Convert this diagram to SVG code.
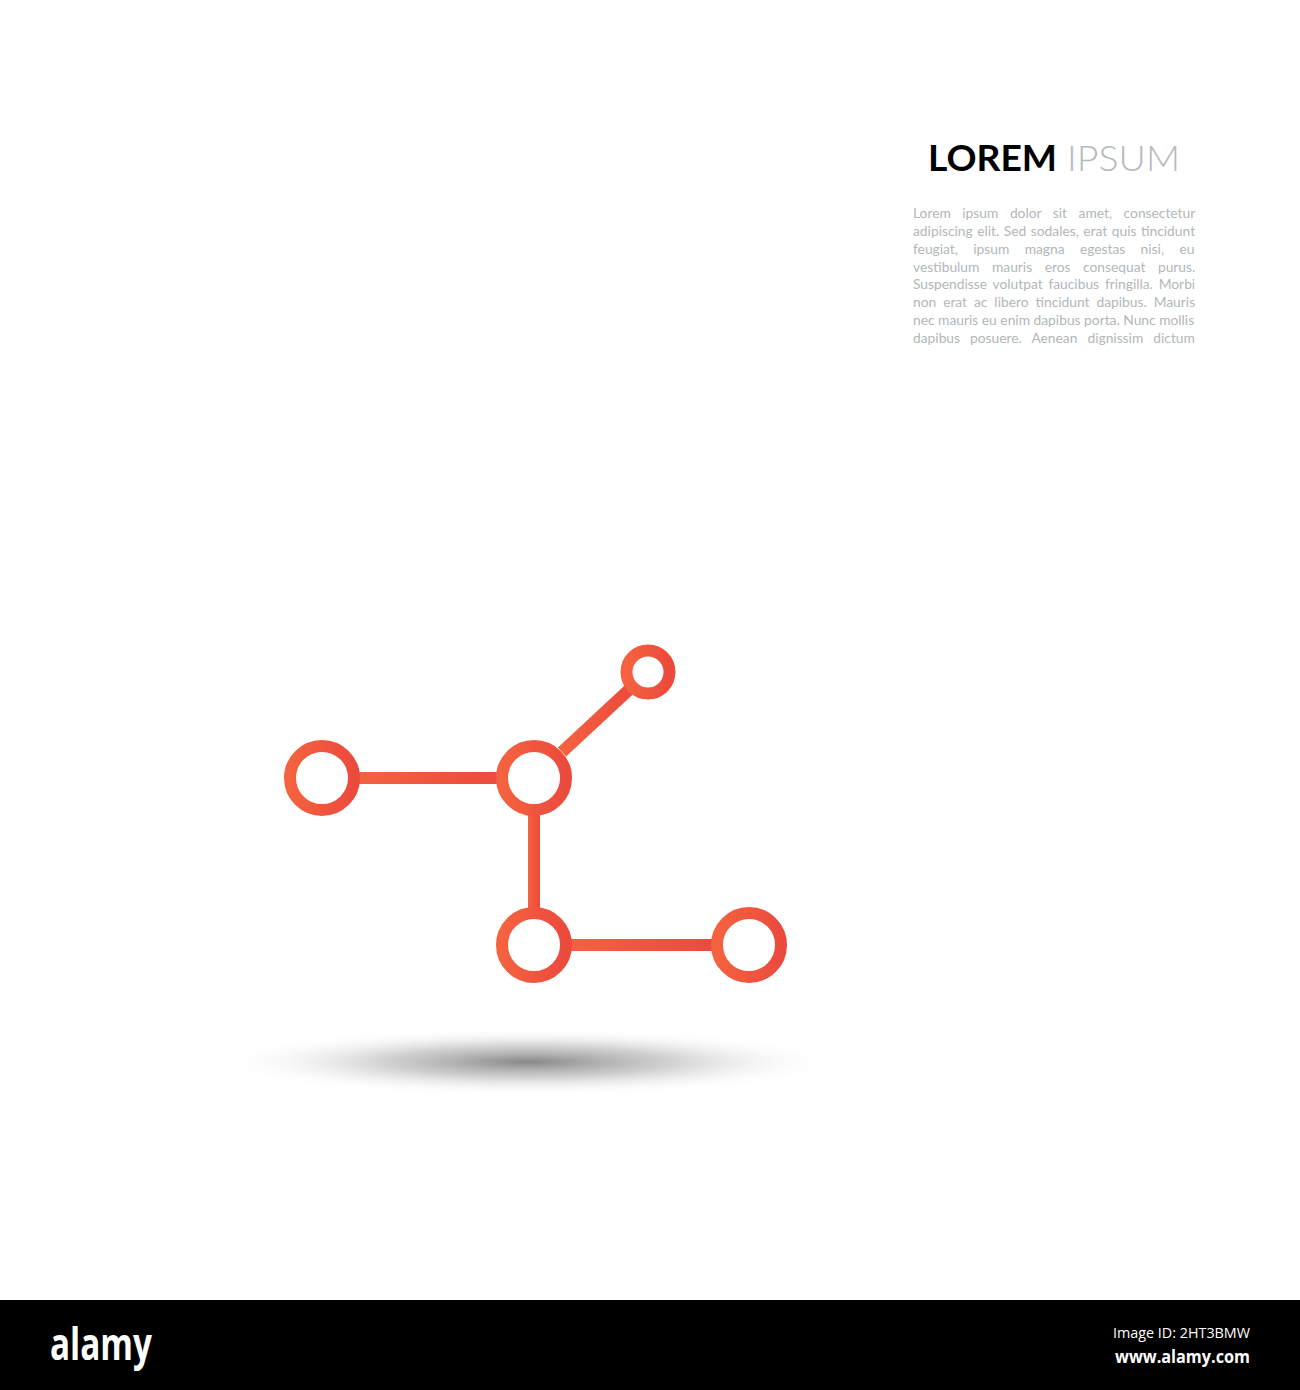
<svg xmlns="http://www.w3.org/2000/svg" width="1300" height="1390" viewBox="0 0 1300 1390">
<style>
.node{fill:none;stroke:url(#og);stroke-width:12}
.link{fill:url(#og)}
.para{font-family:Lato,"Open Sans",sans-serif;font-size:13.8px;fill:#b2b7ba}
.h1{font-family:Lato,"Open Sans",sans-serif;font-size:36px}
.foot{font-family:"Liberation Sans Narrow","Open Sans",sans-serif;fill:#fff}
</style>
<defs>
<linearGradient id="og" x1="0" y1="0" x2="1" y2="0">
<stop offset="0" stop-color="#f4623f"/>
<stop offset="1" stop-color="#ec4a3d"/>
</linearGradient>
<radialGradient id="sh" cx="0.5" cy="0.5" r="0.5">
<stop offset="0" stop-color="#7a7a7a" stop-opacity="0.9"/>
<stop offset="0.45" stop-color="#b0b0b0" stop-opacity="0.6"/>
<stop offset="1" stop-color="#ffffff" stop-opacity="0"/>
</radialGradient>
</defs>
<rect width="1300" height="1390" fill="#fff"/>
<ellipse cx="528" cy="1062" rx="310" ry="34" fill="url(#sh)"/>
<g id="connectors">
<rect class="link" x="356" y="772" width="142" height="12"/>
<line x1="562" y1="752" x2="633" y2="686" stroke="url(#og)" stroke-width="12"/>
<rect class="link" x="528" y="814" width="12" height="95"/>
<rect class="link" x="568" y="939" width="146" height="12"/>
</g>
<g id="n-left"><circle class="node" cx="322" cy="778" r="32"/></g>
<g id="n-center"><circle class="node" cx="534" cy="778" r="32"/></g>
<g id="n-top"><circle class="node" cx="648" cy="672" r="21.5"/></g>
<g id="n-bottom"><circle class="node" cx="534" cy="945" r="32"/></g>
<g id="n-right"><circle class="node" cx="749" cy="945" r="32"/></g>
<g id="title">
<text class="h1" x="928" y="171" font-weight="700" fill="#000" textLength="129" lengthAdjust="spacingAndGlyphs">LOREM</text>
<text class="h1" x="1067" y="171" font-weight="300" fill="#b5babd" textLength="113" lengthAdjust="spacingAndGlyphs">IPSUM</text>
</g>
<g id="paragraph" class="para">
<text x="913" y="218" word-spacing="8">Lorem ipsum dolor sit amet, consectetur</text>
<text x="913" y="236" word-spacing="1">adipiscing elit. Sed sodales, erat quis tincidunt</text>
<text x="913" y="254" word-spacing="11.8">feugiat, ipsum magna egestas nisi, eu</text>
<text x="913" y="272" word-spacing="9">vestibulum mauris eros consequat purus.</text>
<text x="913" y="289" word-spacing="2.3">Suspendisse volutpat faucibus fringilla. Morbi</text>
<text x="913" y="307" word-spacing="3.4">non erat ac libero tincidunt dapibus. Mauris</text>
<text x="913" y="325">nec mauris eu enim dapibus porta. Nunc mollis</text>
<text x="913" y="343" word-spacing="6.5">dapibus posuere. Aenean dignissim dictum</text>
</g>
<g id="footer">
<rect x="0" y="1300" width="1300" height="90" fill="#000"/>
<text class="foot" x="50" y="1360" font-size="44" font-weight="700" textLength="102" lengthAdjust="spacingAndGlyphs">alamy</text>
<text class="foot" x="1113" y="1338" font-size="15" textLength="137" lengthAdjust="spacingAndGlyphs">Image ID: 2HT3BMW</text>
<text class="foot" x="1115" y="1363" font-size="17" font-weight="700" textLength="135" lengthAdjust="spacingAndGlyphs">www.alamy.com</text>
</g>
</svg>
